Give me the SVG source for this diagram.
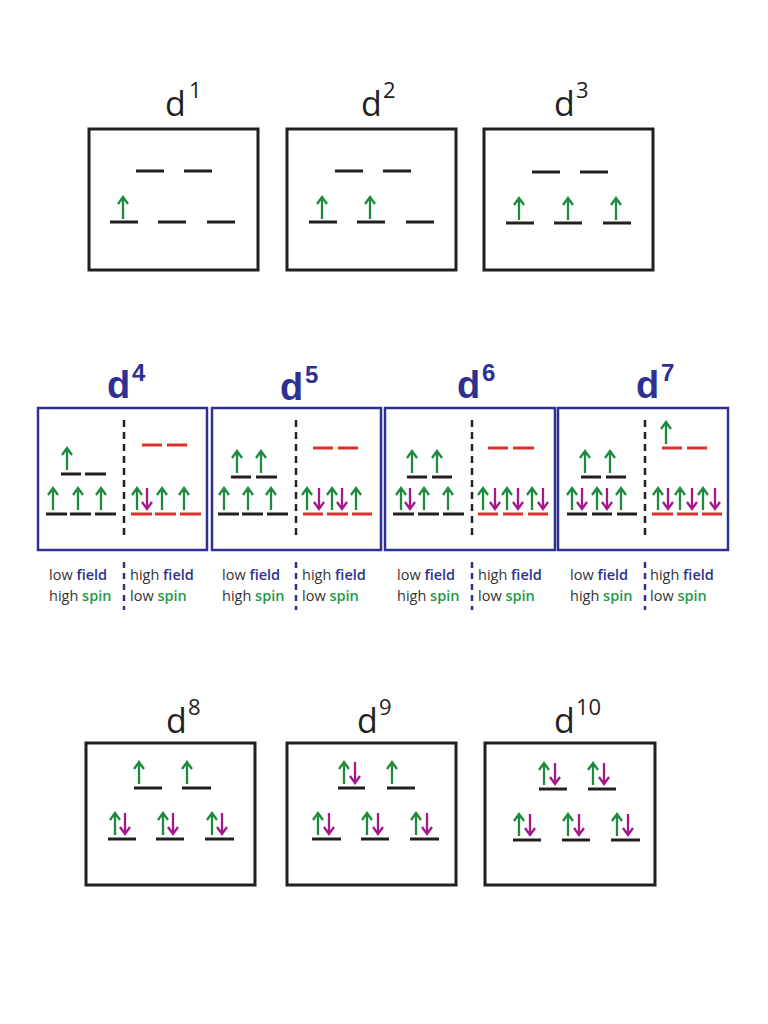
<svg xmlns="http://www.w3.org/2000/svg" xmlns:xlink="http://www.w3.org/1999/xlink" width="768" height="1024" viewBox="0 0 768 1024">
<style>
.bx{fill:#fff;stroke:#231f20;stroke-width:3}
.bb{fill:#fff;stroke:#2e3192;stroke-width:2.5}
.lv{stroke:#231f20;stroke-width:3}
.rd{stroke:#d9312b;stroke-width:3}
.dash{stroke:#231f20;stroke-width:2.5;stroke-dasharray:7,5}
.bdash{stroke:#2e3192;stroke-width:2.5;stroke-dasharray:6,5}
.t{font-family:"Open Sans","Liberation Sans",sans-serif;fill:#231f20;font-size:34px}
.ts{font-family:"Open Sans","Liberation Sans",sans-serif;fill:#231f20;font-size:22px}
.tb{font-family:"Liberation Sans",sans-serif;fill:#2e3192;font-size:38px;font-weight:bold}
.tbs{font-family:"Liberation Sans",sans-serif;fill:#2e3192;font-size:24px;font-weight:bold}
.lb{font-family:"Open Sans","Liberation Sans",sans-serif;fill:#333;font-size:14.5px}
.f{fill:#2e3192;font-weight:600}
.s{fill:#1e9a4a;font-weight:600}
</style>
<defs>
<path id="u" d="M0 0V-21M-5 -15L0 -22L5 -15" fill="none" stroke="#1e8a3e" stroke-width="2.3"/>
<path id="d" d="M0 -22V-1M-5 -8L0 -1L5 -8" fill="none" stroke="#a3188a" stroke-width="2.3"/>
</defs>

<g id="d1">
<text class="t" x="165" y="116">d</text><text class="ts" x="189" y="98">1</text>
<rect class="bx" x="89" y="129" width="169" height="141"/>
<path class="lv" d="M136 171H164M184 171H212M110 222H138M158 222H186M207 222H235"/>
<use href="#u" x="123" y="219"/>
</g>
<g id="d2">
<text class="t" x="361" y="116">d</text><text class="ts" x="383" y="98">2</text>
<rect class="bx" x="287" y="129" width="169" height="141"/>
<path class="lv" d="M335 171H363M383 171H411M309 222H337M357 222H385M406 222H434"/>
<use href="#u" x="322" y="219"/><use href="#u" x="370" y="219"/>
</g>
<g id="d3">
<text class="t" x="554" y="116">d</text><text class="ts" x="576" y="98">3</text>
<rect class="bx" x="484" y="129" width="169" height="141"/>
<path class="lv" d="M532 172H560M580 172H608M506 223H534M554 223H582M603 223H631"/>
<use href="#u" x="519" y="220"/><use href="#u" x="568" y="220"/><use href="#u" x="616" y="220"/>
</g>

<g id="d4">
<text class="tb" x="107" y="398">d</text><text class="tbs" x="132" y="381">4</text>
<rect class="bb" x="38" y="408" width="169" height="142"/>
<path class="dash" d="M124 420V538"/>
<path class="lv" d="M46 514H67M70 514H91M95 514H116M61 474H81M85 474H106"/>
<path class="rd" d="M142 445H162M167 445H187M131 514H152M155 514H176M180 514H201"/>
<use href="#u" x="53" y="510"/><use href="#u" x="78" y="510"/><use href="#u" x="101" y="510"/><use href="#u" x="67" y="470"/>
<use href="#u" x="137" y="510"/><use href="#d" x="147" y="510"/><use href="#u" x="162" y="510"/><use href="#u" x="184" y="510"/>
<text class="lb" x="49" y="580">low <tspan class="f">field</tspan></text>
<text class="lb" x="49" y="601">high <tspan class="s">spin</tspan></text>
<path class="bdash" d="M124 562V610"/>
<text class="lb" x="130" y="580">high <tspan class="f">field</tspan></text>
<text class="lb" x="130" y="601">low <tspan class="s">spin</tspan></text>
</g>
<g id="d5">
<text class="tb" x="280" y="400">d</text><text class="tbs" x="305" y="383">5</text>
<rect class="bb" x="212" y="408" width="169" height="142"/>
<path class="dash" d="M296 420V538"/>
<path class="lv" d="M218 514H239M242 514H263M267 514H288M231 477H251M256 477H277"/>
<path class="rd" d="M313 448H333M338 448H358M303 514H323M327 514H348M352 514H372"/>
<use href="#u" x="224" y="510"/><use href="#u" x="248" y="510"/><use href="#u" x="271" y="510"/><use href="#u" x="237" y="473"/><use href="#u" x="261" y="473"/>
<use href="#u" x="307" y="510"/><use href="#d" x="319" y="510"/><use href="#u" x="332" y="510"/><use href="#d" x="342" y="510"/><use href="#u" x="356" y="510"/>
<text class="lb" x="222" y="580">low <tspan class="f">field</tspan></text>
<text class="lb" x="222" y="601">high <tspan class="s">spin</tspan></text>
<path class="bdash" d="M296 562V610"/>
<text class="lb" x="302" y="580">high <tspan class="f">field</tspan></text>
<text class="lb" x="302" y="601">low <tspan class="s">spin</tspan></text>
</g>
<g id="d6">
<text class="tb" x="457" y="398">d</text><text class="tbs" x="482" y="381">6</text>
<rect class="bb" x="385" y="408" width="170" height="142"/>
<path class="dash" d="M472 420V538"/>
<path class="lv" d="M393 514H414M418 514H439M443 514H464M407 477H427M432 477H452"/>
<path class="rd" d="M488 448H508M513 448H534M478 514H498M503 514H523M528 514H548"/>
<use href="#u" x="401" y="510"/><use href="#d" x="410" y="510"/><use href="#u" x="424" y="510"/><use href="#u" x="448" y="510"/><use href="#u" x="412" y="473"/><use href="#u" x="437" y="473"/>
<use href="#u" x="483" y="510"/><use href="#d" x="495" y="510"/><use href="#u" x="507" y="510"/><use href="#d" x="518" y="510"/><use href="#u" x="532" y="510"/><use href="#d" x="543" y="510"/>
<text class="lb" x="397" y="580">low <tspan class="f">field</tspan></text>
<text class="lb" x="397" y="601">high <tspan class="s">spin</tspan></text>
<path class="bdash" d="M472 562V610"/>
<text class="lb" x="478" y="580">high <tspan class="f">field</tspan></text>
<text class="lb" x="478" y="601">low <tspan class="s">spin</tspan></text>
</g>
<g id="d7">
<text class="tb" x="636" y="398">d</text><text class="tbs" x="661" y="381">7</text>
<rect class="bb" x="558" y="408" width="170" height="142"/>
<path class="dash" d="M645 420V538"/>
<path class="lv" d="M567 514H587M592 514H612M617 514H637M581 477H601M606 477H626"/>
<path class="rd" d="M662 448H682M687 448H707M652 514H673M677 514H698M702 514H722"/>
<use href="#u" x="572" y="510"/><use href="#d" x="582" y="510"/><use href="#u" x="597" y="510"/><use href="#d" x="607" y="510"/><use href="#u" x="621" y="510"/><use href="#u" x="585" y="473"/><use href="#u" x="610" y="473"/>
<use href="#u" x="666" y="444"/>
<use href="#u" x="658" y="510"/><use href="#d" x="668" y="510"/><use href="#u" x="680" y="510"/><use href="#d" x="692" y="510"/><use href="#u" x="703" y="510"/><use href="#d" x="715" y="510"/>
<text class="lb" x="570" y="580">low <tspan class="f">field</tspan></text>
<text class="lb" x="570" y="601">high <tspan class="s">spin</tspan></text>
<path class="bdash" d="M645 562V610"/>
<text class="lb" x="650" y="580">high <tspan class="f">field</tspan></text>
<text class="lb" x="650" y="601">low <tspan class="s">spin</tspan></text>
</g>

<g id="d8">
<text class="t" x="166" y="733">d</text><text class="ts" x="188" y="715">8</text>
<rect class="bx" x="86" y="743" width="169" height="142"/>
<path class="lv" d="M134 788H162M182 788H211M108 839H136M156 839H184M205 839H234"/>
<use href="#u" x="139" y="784"/><use href="#u" x="187" y="784"/>
<use href="#u" x="115" y="835"/><use href="#d" x="125" y="835"/>
<use href="#u" x="163" y="835"/><use href="#d" x="173" y="835"/>
<use href="#u" x="212" y="835"/><use href="#d" x="222" y="835"/>
</g>
<g id="d9">
<text class="t" x="357" y="733">d</text><text class="ts" x="379" y="715">9</text>
<rect class="bx" x="287" y="743" width="169" height="142"/>
<path class="lv" d="M338 788H365M387 788H415M312 839H341M361 839H389M410 839H439"/>
<use href="#u" x="344" y="784"/><use href="#d" x="355" y="784"/><use href="#u" x="392" y="784"/>
<use href="#u" x="318" y="835"/><use href="#d" x="329" y="835"/>
<use href="#u" x="367" y="835"/><use href="#d" x="378" y="835"/>
<use href="#u" x="416" y="835"/><use href="#d" x="427" y="835"/>
</g>
<g id="d10">
<text class="t" x="554" y="733">d</text><text class="ts" x="576" y="715">10</text>
<rect class="bx" x="485" y="743" width="170" height="142"/>
<path class="lv" d="M539 789H567M588 789H616M513 840H541M562 840H590M611 840H640"/>
<use href="#u" x="544" y="785"/><use href="#d" x="555" y="785"/>
<use href="#u" x="593" y="785"/><use href="#d" x="604" y="785"/>
<use href="#u" x="519" y="836"/><use href="#d" x="530" y="836"/>
<use href="#u" x="568" y="836"/><use href="#d" x="579" y="836"/>
<use href="#u" x="617" y="836"/><use href="#d" x="628" y="836"/>
</g>
<g id="connectors"/>
</svg>
